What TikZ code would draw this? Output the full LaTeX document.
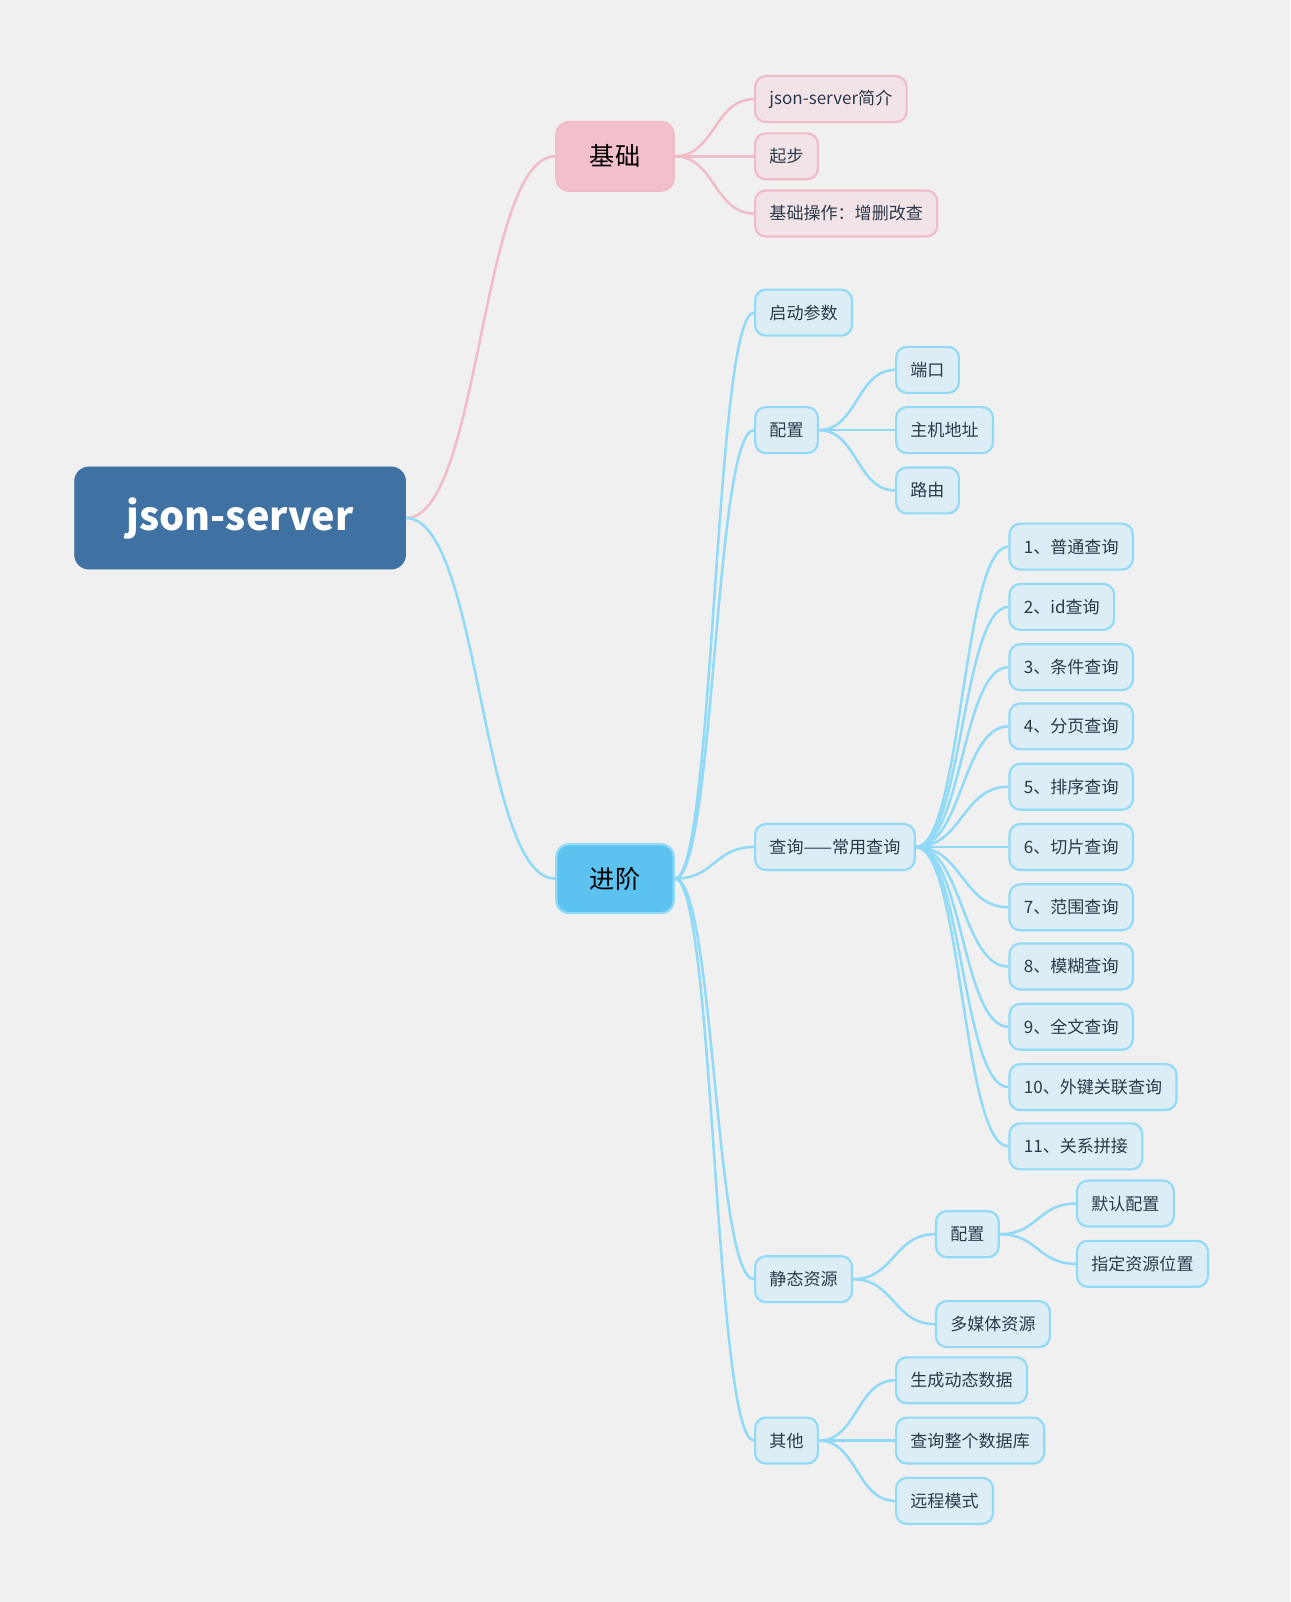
\documentclass[tikz,border=0pt]{standalone}
\usepackage{fontspec}
\usetikzlibrary{calc}
\setmainfont{Noto Sans CJK SC}
\definecolor{bg}{HTML}{F0F0F0}
\definecolor{rootblue}{HTML}{3F72A3}
\definecolor{pinkfill}{HTML}{F2BFCB}
\definecolor{pinkleaf}{HTML}{F2E3E7}
\definecolor{pinkline}{HTML}{F0BCC8}
\definecolor{skyfill}{HTML}{5CC3F0}
\definecolor{skyleaf}{HTML}{DDEDF5}
\definecolor{skyline}{HTML}{90DAF7}
\definecolor{txt}{HTML}{2B3A4A}
\tikzset{
  rootbox/.style={rounded corners=8pt, fill=rootblue, draw=rootblue, text=white, font=\fontsize{22}{26}\selectfont\bfseries, minimum width=6.48cm, minimum height=2cm},
  pinkmain/.style={rounded corners=7pt, fill=pinkfill, draw=pinkline, line width=1.2pt, text=black, font=\fontsize{14}{16}\selectfont, minimum width=2.3cm, minimum height=1.35cm},
  skymain/.style={pinkmain, fill=skyfill, draw=skyline},
  pinkbox/.style={rounded corners=6pt, fill=pinkleaf, draw=pinkline, line width=1.2pt, text=txt, font=\fontsize{9.5}{11}\selectfont, minimum height=0.9cm, inner xsep=8pt, anchor=west},
  skybox/.style={pinkbox, fill=skyleaf, draw=skyline},
  branch/.style={to path={let \p1=(\tikztostart), \p2=(\tikztotarget) in
    .. controls ({0.5*\x1+0.5*\x2},\y1) and ({0.5*\x1+0.5*\x2},\y2) .. (\tikztotarget)}},
  pinkedge/.style={draw=pinkline, line width=1.4pt, branch},
  skyedge/.style={draw=skyline, line width=1.4pt, branch}
}
\begin{document}
\begin{tikzpicture}[x=0.02cm, y=-0.02cm]
\fill[bg] (0,0) rectangle (1263,1568);
\useasboundingbox (0,0) rectangle (1263,1568);

\node[rootbox] (root) at (235,507) {json-server};
\node[pinkmain] (basic) at (602,153) {基础};
\node[skymain] (adv) at (602,860) {进阶};

% basic
\node[pinkbox] (intro) at (738,97) {json-server简介};
\node[pinkbox] (start) at (738,153) {起步};
\node[pinkbox] (crud) at (738,209) {基础操作：增删改查};

% advanced
\node[skybox] (args) at (738,306) {启动参数};
\node[skybox] (conf) at (738,421) {配置};
\node[skybox] (port) at (876,362) {端口};
\node[skybox] (host) at (876,421) {主机地址};
\node[skybox] (route) at (876,480) {路由};
\node[skybox] (query) at (738,829) {查询——常用查询};
\node[skybox] (static) at (738,1252) {静态资源};
\node[skybox] (sconf) at (915,1208) {配置};
\node[skybox] (sdef) at (1053,1178) {默认配置};
\node[skybox] (spath) at (1053,1237) {指定资源位置};
\node[skybox] (media) at (915,1296) {多媒体资源};
\node[skybox] (other) at (738,1410) {其他};
\node[skybox] (gen) at (876,1351) {生成动态数据};
\node[skybox] (db) at (876,1410) {查询整个数据库};
\node[skybox] (remote) at (876,1469) {远程模式};

\foreach \i/\t/\y in {1/普通查询/535, 2/id查询/594, 3/条件查询/653, 4/分页查询/711,
  5/排序查询/770, 6/切片查询/829, 7/范围查询/888, 8/模糊查询/946, 9/全文查询/1005,
  10/外键关联查询/1064, 11/关系拼接/1122}
  \node[skybox] (q\i) at (987,\y) {\i、\t};

% edges
\draw (root.east) edge[pinkedge] (basic.west) edge[skyedge] (adv.west);
\foreach \c in {intro,start,crud}
  \draw (basic.east) edge[pinkedge] (\c.west);
\foreach \c in {args,conf,query,static,other}
  \draw (adv.east) edge[skyedge] (\c.west);
\foreach \c in {port,host,route}
  \draw (conf.east) edge[skyedge] (\c.west);
\foreach \i in {1,...,11}
  \draw (query.east) edge[skyedge] (q\i.west);
\foreach \c in {sconf,media}
  \draw (static.east) edge[skyedge] (\c.west);
\foreach \c in {sdef,spath}
  \draw (sconf.east) edge[skyedge] (\c.west);
\foreach \c in {gen,db,remote}
  \draw (other.east) edge[skyedge] (\c.west);
\end{tikzpicture}
\end{document}
